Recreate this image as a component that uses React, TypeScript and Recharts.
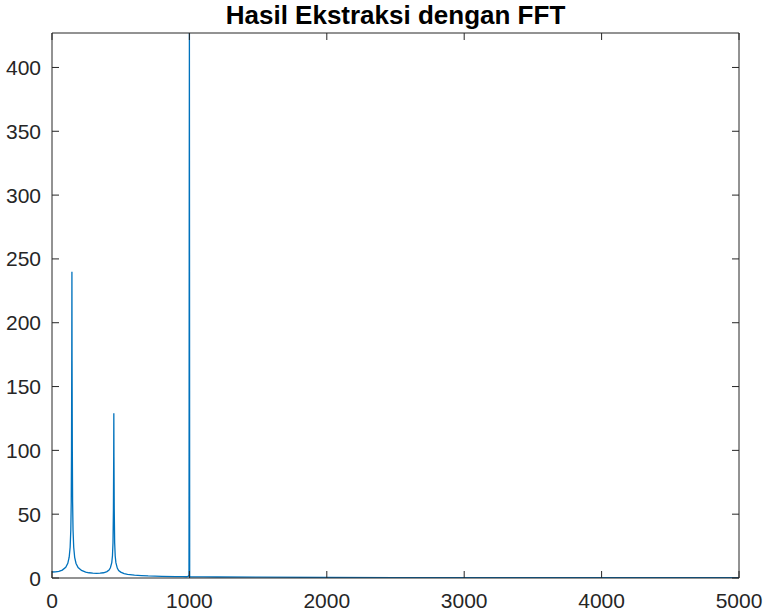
import React from "react";
import { LineChart, Line, XAxis, YAxis } from "recharts";

const frequencies: number[] = [
  0, 25, 50, 75, 100, 115, 125, 132, 137, 140, 142, 144, 145, 146, 148, 150, 153, 158, 165, 175,
  190, 215, 245, 270, 297, 325, 350, 375, 400, 415, 425, 435, 440, 444, 447, 449, 450, 451, 453,
  456, 460, 465, 475, 485, 500, 525, 550, 600, 650, 700, 800, 900, 950, 980, 990, 995, 997, 998,
  999, 1000, 1001, 1002, 1003, 1010, 1100, 1200, 1500, 2000, 2500, 3000, 3500, 4000, 4500, 5000,
];

const magnitudes: number[] = [
  4.7, 4.8, 5.2, 6.2, 8.4, 11.5, 16.3, 24.1, 38.0, 59.8, 98.5, 180, 240, 170, 98.5, 59.8, 38.0,
  24.1, 16.2, 11.4, 8.2, 5.9, 4.6, 4.1, 3.8, 3.7, 3.8, 4.1, 5.0, 6.2, 8.0, 12.1, 17.3, 27.6, 53.6,
  95, 129, 95, 53.6, 27.6, 17.2, 12.0, 7.8, 5.9, 4.6, 3.4, 2.9, 2.2, 1.9, 1.6, 1.3, 1.1, 1.05, 1.0,
  1.3, 2.0, 1.0, 140, 320, 427, 240, 0.3, 0.8, 0.9, 0.87, 0.79, 0.62, 0.46, 0.36, 0.3, 0.26, 0.22,
  0.2, 0.2,
];

const xTicks: number[] = [0, 1000, 2000, 3000, 4000, 5000];
const yTicks: number[] = [0, 50, 100, 150, 200, 250, 300, 350, 400];

const data = frequencies.map((f, i) => ({ f, v: magnitudes[i] }));

const AXIS = "#262626";
const FONT = "'Liberation Sans', Arial, Helvetica, sans-serif";
const TICK_LEN = 7;

const BottomTick = (props: any) => {
  const { x, y, payload } = props;
  return (
    <g>
      <line x1={x} x2={x} y1={y} y2={y - TICK_LEN} stroke={AXIS} strokeWidth={1} />
      <text x={x} y={y + 30} textAnchor="middle" fill={AXIS} fontSize={21} fontFamily={FONT}>
        {payload.value}
      </text>
    </g>
  );
};

const TopTick = (props: any) => {
  const { x, y } = props;
  return <line x1={x} x2={x} y1={y} y2={y + TICK_LEN} stroke={AXIS} strokeWidth={1} />;
};

const LeftTick = (props: any) => {
  const { x, y, payload } = props;
  return (
    <g>
      <line x1={x} x2={x + TICK_LEN} y1={y} y2={y} stroke={AXIS} strokeWidth={1} />
      <text x={x - 11} y={y} dy="0.36em" textAnchor="end" fill={AXIS} fontSize={21} fontFamily={FONT}>
        {payload.value}
      </text>
    </g>
  );
};

const RightTick = (props: any) => {
  const { x, y } = props;
  return <line x1={x} x2={x - TICK_LEN} y1={y} y2={y} stroke={AXIS} strokeWidth={1} />;
};

export default function App() {
  return (
    <div style={{ position: "absolute", left: 0, top: 0, width: 768, height: 612, background: "#fff" }}>
      <div
        style={{
          position: "absolute",
          left: 52,
          width: 687,
          top: 0,
          textAlign: "center",
          fontFamily: FONT,
          fontWeight: "bold",
          fontSize: 26,
          lineHeight: "31px",
          color: "#000",
        }}
      >
        Hasil Ekstraksi dengan FFT
      </div>
      <LineChart width={768} height={612} data={data} margin={{ top: 32, right: 28, bottom: 0, left: 0 }}>
        <XAxis
          xAxisId="bottom"
          dataKey="f"
          type="number"
          domain={[0, 5000]}
          ticks={xTicks}
          height={34}
          tickSize={0}
          tickMargin={0}
          tickLine={false}
          tick={<BottomTick />}
          axisLine={{ stroke: AXIS, strokeWidth: 1 }}
          allowDataOverflow
          interval={0}
        />
        <XAxis
          xAxisId="top"
          orientation="top"
          dataKey="f"
          type="number"
          domain={[0, 5000]}
          ticks={xTicks}
          height={1}
          tickSize={0}
          tickMargin={0}
          tickLine={false}
          tick={<TopTick />}
          axisLine={{ stroke: AXIS, strokeWidth: 1 }}
          allowDataOverflow
          interval={0}
        />
        <YAxis
          yAxisId="left"
          type="number"
          domain={[0, 427]}
          ticks={yTicks}
          width={52}
          tickSize={0}
          tickMargin={0}
          tickLine={false}
          tick={<LeftTick />}
          axisLine={{ stroke: AXIS, strokeWidth: 1 }}
          allowDataOverflow
          interval={0}
        />
        <YAxis
          yAxisId="right"
          orientation="right"
          type="number"
          domain={[0, 427]}
          ticks={yTicks}
          width={1}
          tickSize={0}
          tickMargin={0}
          tickLine={false}
          tick={<RightTick />}
          axisLine={{ stroke: AXIS, strokeWidth: 1 }}
          allowDataOverflow
          interval={0}
        />
        <Line
          xAxisId="top"
          yAxisId="right"
          type="linear"
          dataKey="v"
          stroke="none"
          strokeOpacity={0}
          dot={false}
          activeDot={false}
          isAnimationActive={false}
        />
        <Line
          xAxisId="bottom"
          yAxisId="left"
          type="linear"
          dataKey="v"
          stroke="#0072BD"
          strokeWidth={1.3}
          dot={false}
          isAnimationActive={false}
        />
      </LineChart>
    </div>
  );
}
